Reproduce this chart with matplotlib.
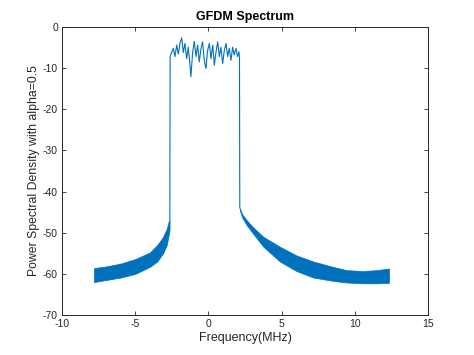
import matplotlib
matplotlib.use("Agg")
import matplotlib.pyplot as plt

# in-band ripple
f_in = [-2.64, -2.62, -2.50, -2.40, -2.29, -2.17, -2.06, -1.95, -1.83, -1.72, -1.61,
        -1.49, -1.38, -1.26, -1.20, -1.08, -0.97, -0.85, -0.74, -0.63, -0.51,
        -0.40, -0.29, -0.17, -0.06, 0.06, 0.17, 0.29, 0.40, 0.51, 0.63, 0.74,
        0.85, 0.97, 1.08, 1.20, 1.31, 1.42, 1.54, 1.65, 1.76, 1.88, 1.99,
        2.08, 2.12, 2.14]
p_in = [-46.5, -7.2, -6.0, -5.2, -7.2, -4.4, -6.6, -4.0, -2.6, -6.2, -4.0,
        -7.7, -4.9, -9.3, -12.1, -6.2, -3.5, -7.2, -4.4, -8.5, -5.2,
        -3.6, -8.1, -10.1, -5.7, -4.0, -7.7, -4.4, -9.3, -6.2, -3.6, -7.2,
        -4.9, -8.9, -5.7, -4.0, -7.2, -5.2, -8.1, -4.9, -6.8, -5.2, -7.2,
        -6.0, -7.5, -44.0]

# out-of-band sidelobes: envelope of the fast oscillation
f_left = [-7.82, -7.0, -6.0, -5.0, -4.0, -3.5, -3.1, -2.85, -2.66]
up_left = [-58.6, -58.2, -57.5, -56.4, -54.8, -53.0, -51.0, -49.0, -46.5]
lo_left = [-62.0, -61.5, -60.9, -60.0, -58.3, -57.0, -55.0, -53.0, -49.5]

f_right = [2.14, 2.3, 2.6, 3.0, 3.75, 4.88, 6.0, 7.16, 8.5, 9.44, 10.5, 11.5, 12.33]
up_right = [-44.0, -45.5, -46.9, -48.5, -51.0, -53.4, -55.5, -57.0, -58.3, -59.1, -59.3, -59.1, -58.7]
lo_right = [-44.5, -46.3, -48.1, -50.0, -53.4, -57.0, -59.3, -60.9, -61.7, -62.1, -62.3, -62.3, -62.2]

plt.rcParams['font.family'] = ['Liberation Sans', 'DejaVu Sans']
plt.rcParams['axes.unicode_minus'] = False
c = '#0072BD'
dark = '#262626'

fig = plt.figure(figsize=(4.74, 3.55), dpi=100)
ax = fig.add_axes([0.131, 0.1127, 0.772, 0.8113])

ax.fill_between(f_left, lo_left, up_left, color=c, lw=0.5)
ax.fill_between(f_right, lo_right, up_right, color=c, lw=0.5)
ax.plot(f_in, p_in, color=c, lw=0.8)

ax.set_xlim(-10, 15)
ax.set_ylim(-70, 0)
ax.set_xticks(range(-10, 16, 5))
ax.set_yticks(range(-70, 1, 10))
ax.tick_params(direction='in', length=3, width=0.6, top=True, right=True,
               labelsize=7.5, colors=dark, pad=3)
for s in ax.spines.values():
    s.set_linewidth(0.7)
    s.set_color(dark)

ax.set_title("GFDM Spectrum", fontsize=9, fontweight='bold', color='black', pad=5)
ax.set_xlabel("Frequency(MHz)", fontsize=9, color=dark, labelpad=2)
ax.set_ylabel("Power Spectral Density with alpha=0.5", fontsize=8.8, color=dark, labelpad=2)

fig.savefig("out.png", dpi=100)
